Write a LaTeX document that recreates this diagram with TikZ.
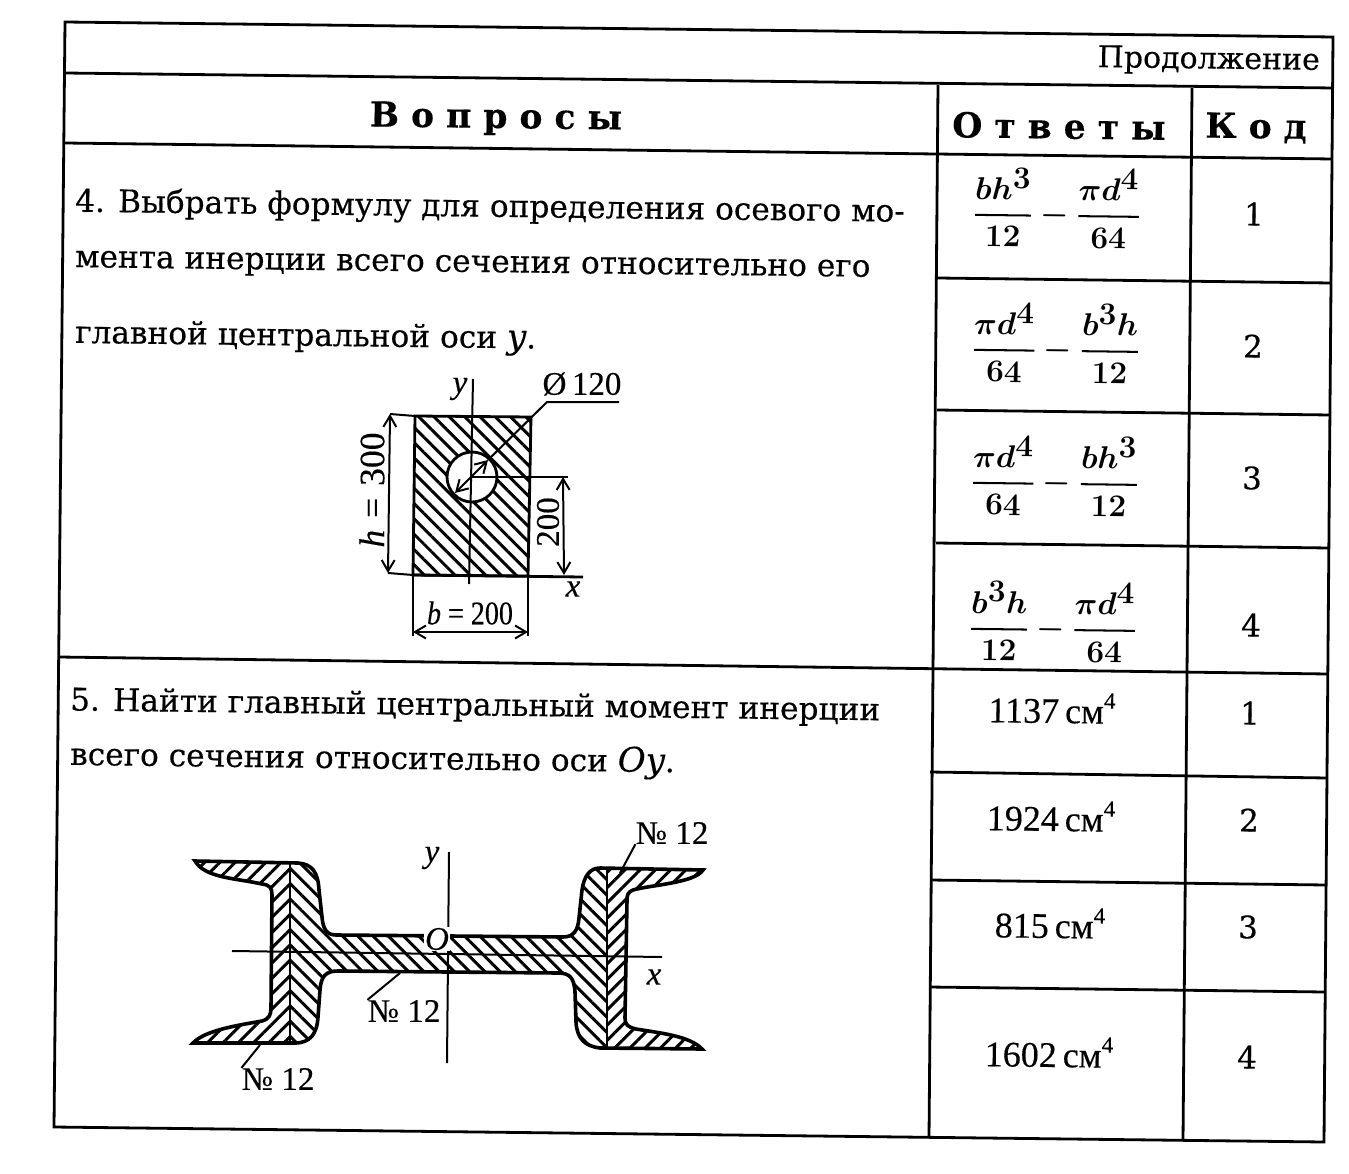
\documentclass[tikz,border=0pt]{standalone}
\usepackage{amsmath}
\usepackage{fontspec}
\setmainfont{DejaVu Serif}[FakeBold = 0.3]
\newfontfamily\drawfont{Liberation Serif}[FakeBold = 0.3]
\usetikzlibrary{arrows.meta, patterns.meta}
\tikzstyle{rule} = [line width = 2.8pt, black]
\tikzstyle{thin rule} = [line width = 2pt, black]
\tikzstyle{dim} = [line width = 2pt, black, <->, >={Straight Barb[length = 11pt, width = 13pt]}]
\tikzstyle{body} = [anchor = west, inner sep = 0, rotate = -0.7, font = \fontsize{31.2}{36}\selectfont]
\tikzstyle{more} = [anchor = east, inner sep = 0, rotate = -0.7, font = \fontsize{30}{36}\selectfont]
\tikzstyle{head} = [inner sep = 0, rotate = -0.7, font = \fontsize{34.5}{36}\selectfont\bfseries]
\tikzstyle{code} = [inner sep = 0, rotate = -0.7, font = \fontsize{31}{36}\selectfont]
\tikzstyle{formula} = [inner sep = 0, rotate = -0.7, scale = 1.27, font = \fontsize{35}{40}\selectfont\boldmath]
\tikzstyle{answer} = [inner sep = 0, rotate = -0.7, font = \fontsize{36}{40}\selectfont\drawfont]
\tikzstyle{tag} = [inner sep = 0, font = \fontsize{33}{36}\selectfont\drawfont]
\tikzstyle{hatch-a} = [pattern = {Lines[angle = 45, distance = 10.8pt, line width = 3pt]}]
\tikzstyle{hatch-b} = [pattern = {Lines[angle = -45, distance = 10.8pt, line width = 3pt]}]
\newcommand{\varname}[1]{{\fontsize{34}{36}\selectfont\itshape #1}}
\newcommand{\sqcm}{см\raisebox{0.42em}{\fontsize{23}{23}\selectfont 4}}
\newcommand{\ratio}[2]{\genfrac{}{}{1.6pt}{0}{#1}{#2}}
\newcommand{\channeloutline}{(195,861) -- (298,863) .. controls (312,864) and (318,872) .. (319,890)
  -- (322,917) .. controls (323,928) and (326,935) .. (336,935) -- (563,937)
  .. controls (574,937) and (578,930) .. (579,918) -- (582,890)
  .. controls (584,876) and (590,868) .. (600,868) -- (703,870)
  .. controls (695,883) and (650,885) .. (633,890) .. controls (628,892) and (627,895) .. (627,900)
  -- (625,1018) .. controls (625,1025) and (628,1027) .. (636,1029)
  .. controls (660,1033) and (690,1036) .. (702,1049) -- (600,1048)
  .. controls (584,1046) and (577,1038) .. (576,1022) -- (575,992)
  .. controls (574,978) and (570,973) .. (558,973) -- (338,971)
  .. controls (326,971) and (321,976) .. (320,990) -- (318,1017)
  .. controls (317,1034) and (310,1043) .. (295,1043) -- (193,1043)
  .. controls (205,1030) and (240,1025) .. (262,1021) .. controls (269,1019) and (271,1015) .. (271,1008)
  -- (272,895) .. controls (272,888) and (270,885) .. (262,884)
  .. controls (235,878) and (205,878) .. (195,861) -- cycle}

\begin{document}
\begin{tikzpicture}[x = 1pt, y = -1pt]
  \useasboundingbox (0, 0) rectangle (1349, 1174);
  % frame
  \coordinate (frame-tl) at (65, 22);
  \coordinate (frame-tr) at (1333, 37);
  \coordinate (frame-br) at (1324, 1142);
  \coordinate (frame-bl) at (54, 1127);
  \draw [rule] (frame-tl) -- (frame-tr) -- (frame-br) -- (frame-bl) -- cycle;
  % long lines
  \coordinate (line-a-l) at (65, 73);
  \coordinate (line-a-r) at (1333, 88);
  \coordinate (line-b-l) at (65, 143);
  \coordinate (line-b-r) at (1332, 159);
  \coordinate (line-c-l) at (59, 657);
  \coordinate (line-c-r) at (1328, 674);
  \draw [rule] (line-a-l) -- (line-a-r);
  \draw [rule] (line-b-l) -- (line-b-r);
  \draw [rule] (line-c-l) -- (line-c-r);
  % columns
  \coordinate (col-a-t) at (938, 85);
  \coordinate (col-a-b) at (929, 1138);
  \coordinate (col-b-t) at (1192, 88);
  \coordinate (col-b-b) at (1183, 1141);
  \draw [rule] (col-a-t) -- (col-a-b);
  \draw [rule] (col-b-t) -- (col-b-b);
  % answer rows
  \coordinate (row-1-l) at (938, 278);
  \coordinate (row-1-r) at (1331, 283);
  \coordinate (row-2-l) at (937, 410);
  \coordinate (row-2-r) at (1330, 415);
  \coordinate (row-3-l) at (936, 543);
  \coordinate (row-3-r) at (1329, 548);
  \coordinate (row-5-l) at (930, 772);
  \coordinate (row-5-r) at (1327, 778);
  \coordinate (row-6-l) at (930, 880);
  \coordinate (row-6-r) at (1326, 885);
  \coordinate (row-7-l) at (929, 987);
  \coordinate (row-7-r) at (1325, 992);
  \draw [rule] (row-1-l) -- (row-1-r);
  \draw [rule] (row-2-l) -- (row-2-r);
  \draw [rule] (row-3-l) -- (row-3-r);
  \draw [rule] (row-5-l) -- (row-5-r);
  \draw [rule] (row-6-l) -- (row-6-r);
  \draw [rule] (row-7-l) -- (row-7-r);

  % heads
  \node [more] (head-more) at (1320, 62) {Продолжение};
  \node [head] (head-q) at (496, 119) {В о п р о с ы};
  \node [head] (head-a) at (1059, 126) {О т в е т ы};
  \node [head] (head-c) at (1256, 128) {К о д};

  % question 4
  \node [body] (text-4-a) at (75, 203) {4. Выбрать формулу для определения осевого мо-};
  \node [body] (text-4-b) at (75, 262) {мента инерции всего сечения относительно его};
  \node [body] (text-4-c) at (75, 335) {главной центральной оси \varname{y}.};
  % question 5
  \node [body] (text-5-a) at (70, 702) {5. Найти главный центральный момент инерции};
  \node [body] (text-5-b) at (70, 756) {всего сечения относительно оси \varname{Oy}.};

  % answers 4
  \node [formula] (ans-4-1) at (1057, 208) {$\ratio{bh^3}{12}-\ratio{\pi d^4}{64}$};
  \node [formula] (ans-4-2) at (1056, 343) {$\ratio{\pi d^4}{64}-\ratio{b^3h}{12}$};
  \node [formula] (ans-4-3) at (1055, 476) {$\ratio{\pi d^4}{64}-\ratio{bh^3}{12}$};
  \node [formula] (ans-4-4) at (1053, 622) {$\ratio{b^3h}{12}-\ratio{\pi d^4}{64}$};
  \node [code] (code-4-1) at (1254, 214) {1};
  \node [code] (code-4-2) at (1253, 346) {2};
  \node [code] (code-4-3) at (1252, 478) {3};
  \node [code] (code-4-4) at (1251, 625) {4};
  % answers 5
  \node [answer] (ans-5-1) at (1052, 708) {1137\,\sqcm};
  \node [answer] (ans-5-2) at (1051, 816) {1924\,\sqcm};
  \node [answer] (ans-5-3) at (1050, 923) {815\,\sqcm};
  \node [answer] (ans-5-4) at (1049, 1052) {1602\,\sqcm};
  \node [code] (code-5-1) at (1250, 713) {1};
  \node [code] (code-5-2) at (1249, 820) {2};
  \node [code] (code-5-3) at (1248, 927) {3};
  \node [code] (code-5-4) at (1247, 1057) {4};

  % section 4
  \coordinate (sec-tl) at (415, 416);
  \coordinate (sec-tr) at (531, 417);
  \coordinate (sec-br) at (528, 576);
  \coordinate (sec-bl) at (413, 575);
  \coordinate (hole-c) at (472, 477);
  \fill [hatch-b] (sec-tl) -- (sec-tr) -- (sec-br) -- (sec-bl) -- cycle;
  \draw [rule] (sec-tl) -- (sec-tr) -- (sec-br) -- (sec-bl) -- cycle;
  \draw [rule, fill = white] (hole-c) circle (25);
  % axes
  \coordinate (axis-y-a) at (473, 379);
  \coordinate (axis-y-b) at (469, 584);
  \coordinate (axis-x-a) at (583, 577);
  \draw [thin rule] (axis-y-a) -- (axis-y-b);
  \draw [rule] (sec-bl) -- (axis-x-a);
  % dimensions
  \coordinate (dim-h-a) at (390, 414);
  \coordinate (dim-h-b) at (388, 573);
  \draw [thin rule] (dim-h-a) -- (sec-tl);
  \draw [thin rule] (dim-h-b) -- (sec-bl);
  \draw [dim] (dim-h-a) -- (dim-h-b);
  \coordinate (dim-200-c) at (568, 477);
  \coordinate (dim-200-a) at (563, 477);
  \coordinate (dim-200-b) at (564, 575);
  \draw [thin rule] (hole-c) -- (dim-200-c);
  \draw [dim] (dim-200-a) -- (dim-200-b);
  \coordinate (dim-b-a) at (413, 632);
  \coordinate (dim-b-b) at (528, 632);
  \coordinate (dim-b-c) at (413, 636);
  \coordinate (dim-b-d) at (528, 636);
  \draw [thin rule] (sec-bl) -- (dim-b-c);
  \draw [thin rule] (sec-br) -- (dim-b-d);
  \draw [dim] (dim-b-a) -- (dim-b-b);
  \coordinate (hole-a) at (455, 493);
  \coordinate (hole-b) at (488, 460);
  \coordinate (lead-a) at (547, 402);
  \coordinate (lead-b) at (619, 402);
  \draw [dim] (hole-a) -- (hole-b);
  \draw [thin rule] (hole-b) -- (lead-a) -- (lead-b);
  % labels
  \node [tag] (label-d) at (582, 384) {Ø\,120};
  \node [tag, rotate = 90, scale = 1.08] (label-h) at (372, 490) {\textit{h}\,\,=\,\,300};
  \node [tag, rotate = 90] (label-200) at (548, 522) {200};
  \node [tag, xscale = 0.85] (label-b) at (470, 613) {\textit{b} = 200};
  \node [tag] (label-y) at (460, 389) {\textit{y}};
  \node [tag] (label-x) at (573, 589) {\textit{x}};

  % channels
  \begin{scope}
    \clip \channeloutline;
    \fill [hatch-a] (180, 850) rectangle (290, 1060);
    \fill [hatch-b] (290, 850) rectangle (607, 1060);
    \fill [hatch-a] (607, 850) rectangle (720, 1060);
  \end{scope}
  \draw [rule, line width = 3.6pt] \channeloutline;
  \coordinate (web-a-t) at (290, 863);
  \coordinate (web-a-b) at (290, 1043);
  \coordinate (web-b-t) at (607, 868);
  \coordinate (web-b-b) at (607, 1048);
  \draw [rule] (web-a-t) -- (web-a-b);
  \draw [rule] (web-b-t) -- (web-b-b);
  % axes
  \coordinate (beam-x-a) at (232, 951);
  \coordinate (beam-x-b) at (662, 957);
  \coordinate (beam-y-a) at (449, 852);
  \coordinate (beam-y-b) at (447, 1063);
  \draw [thin rule] (beam-x-a) -- (beam-x-b);
  \draw [thin rule] (beam-y-a) -- (beam-y-b);
  \node [tag] (label-beam-y) at (432, 858) {\textit{y}};
  \node [tag] (label-beam-x) at (654, 977) {\textit{x}};
  \node [tag, fill = white, inner sep = 1] (label-beam-o) at (437, 939) {\textit{O}};
  % leaders
  \node [tag] (label-no-a) at (672, 833) {№ 12};
  \node [tag] (label-no-b) at (404, 1011) {№ 12};
  \node [tag] (label-no-c) at (278, 1079) {№ 12};
  \coordinate (lead-no-a) at (620, 873);
  \coordinate (lead-no-b) at (400, 973);
  \coordinate (lead-no-c) at (260, 1045);
  \draw [thin rule] (label-no-a.south west) -- (lead-no-a);
  \draw [thin rule] (label-no-b.north west) -- (lead-no-b);
  \draw [thin rule] (label-no-c.north west) -- (lead-no-c);
\end{tikzpicture}
\end{document}
